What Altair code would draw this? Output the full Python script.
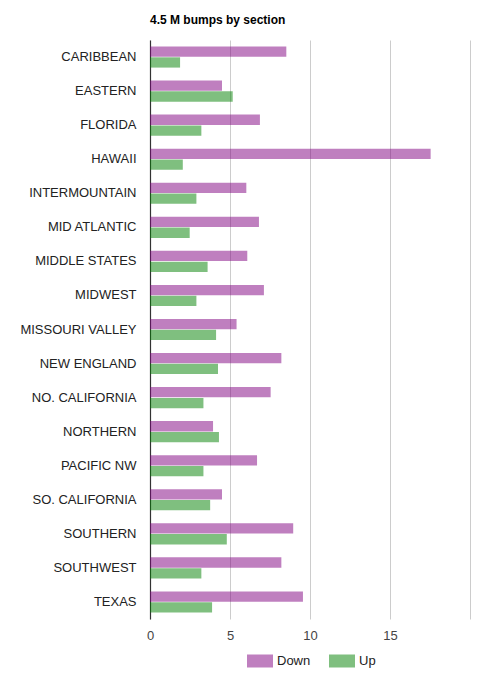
import altair as alt
import pandas as pd

sections = ["CARIBBEAN", "EASTERN", "FLORIDA", "HAWAII", "INTERMOUNTAIN",
            "MID ATLANTIC", "MIDDLE STATES", "MIDWEST", "MISSOURI VALLEY",
            "NEW ENGLAND", "NO. CALIFORNIA", "NORTHERN", "PACIFIC NW",
            "SO. CALIFORNIA", "SOUTHERN", "SOUTHWEST", "TEXAS"]
down = [8.52, 4.5, 6.87, 17.54, 6.02, 6.81, 6.08, 7.12, 5.41,
        8.21, 7.54, 3.94, 6.69, 4.5, 8.95, 8.21, 9.56]
up = [1.88, 5.17, 3.21, 2.05, 2.9, 2.48, 3.6, 2.9, 4.13,
      4.25, 3.34, 4.31, 3.34, 3.76, 4.8, 3.21, 3.88]
series = ["Down", "Up"]
colors = ["#800080", "#008000"]
x_ticks = [0, 5, 10, 15, 20]

rows = []
for s, d, u in zip(sections, down, up):
    rows.append({"section": s, "series": "Down", "value": d})
    rows.append({"section": s, "series": "Up", "value": u})
df = pd.DataFrame(rows)

FONT = "Liberation Sans"

chart = alt.Chart(df).mark_bar(opacity=0.5).encode(
    y=alt.Y("section:N", sort=sections, title=None,
            scale=alt.Scale(paddingInner=0.38, paddingOuter=0.19),
            axis=alt.Axis(ticks=False, labelPadding=14, labelFontSize=13,
                          labelColor="#222222", labelFont=FONT,
                          domain=True, domainColor="#333333", domainWidth=1.2)),
    yOffset=alt.YOffset("series:N", sort=series,
                        scale=alt.Scale(paddingInner=0.05)),
    x=alt.X("value:Q", title=None,
            scale=alt.Scale(domain=[0, 20], nice=False),
            axis=alt.Axis(values=x_ticks, ticks=False, domain=False,
                          grid=True, gridColor="#cccccc", gridWidth=1,
                          labelFlush=False,
                          labelExpr="datum.value == 20 ? '' : datum.label",
                          labelFontSize=13, labelColor="#444444", labelFont=FONT,
                          labelPadding=10)),
    color=alt.Color("series:N", sort=series,
                    scale=alt.Scale(domain=series, range=colors),
                    legend=alt.Legend(title=None, orient="none", direction="horizontal",
                                      legendX=97, legendY=608,
                                      symbolType="M-1,-0.5L1,-0.5L1,0.5L-1,0.5Z",
                                      symbolSize=676, symbolOpacity=0.5,
                                      symbolStrokeWidth=0,
                                      labelFontSize=13, labelColor="#222222",
                                      labelFont=FONT, columnPadding=18)),
).properties(
    width=320, height=579,
    title=alt.TitleParams("4.5 M bumps by section", anchor="start", frame="group",
                          fontSize=12, fontWeight="bold", font=FONT,
                          color="#000000", offset=13),
    padding={"left": 142, "top": 32, "right": 2, "bottom": 52},
    autosize=alt.AutoSizeParams(type="none"),
).configure_view(stroke=None)

chart.save("out.html", embed_options={"renderer": "svg", "actions": False})
